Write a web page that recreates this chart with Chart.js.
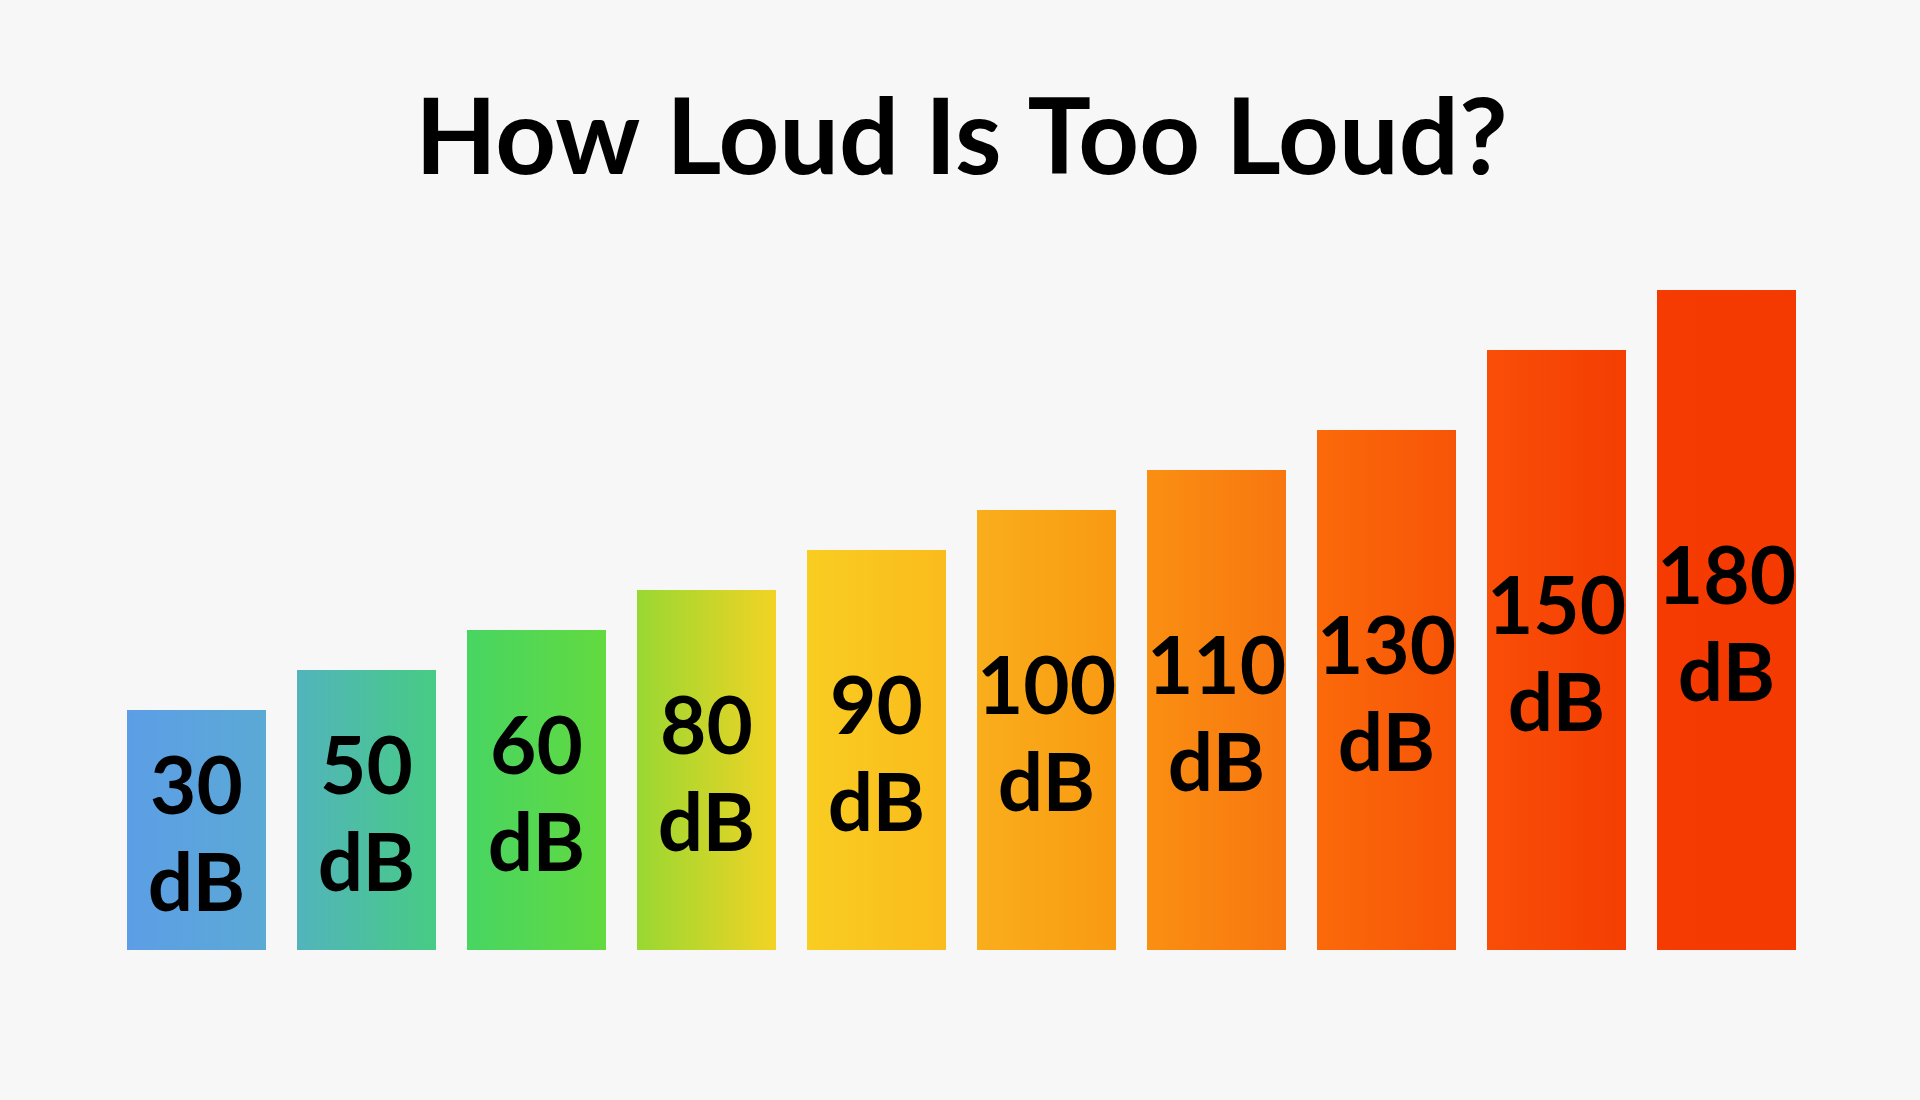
<!DOCTYPE html>
<html>
<head>
<meta charset="utf-8">
<script src="https://cdn.jsdelivr.net/npm/chart.js@4.4.1/dist/chart.umd.min.js"></script>
<style>
  html, body { margin: 0; padding: 0; background: #f7f7f7; }
  #wrap { width: 1920px; height: 1100px; }
</style>
</head>
<body>
<div id="wrap"><canvas id="chart" width="1920" height="1100"></canvas></div>
<script>
// ---------- Data ----------
const levels = [30, 50, 60, 80, 90, 100, 110, 130, 150, 180]; // dB labels
const barHeights = [6, 7, 8, 9, 10, 11, 12, 13, 15, 16.5];   // bar heights as drawn (not to scale with dB)
const unitText = "dB";

// left / right stop of each bar's horizontal gradient
const gradLeft  = ["#5c9ee6", "#52b4bc", "#48d563", "#98d832", "#f9cd22", "#f9ae1c", "#fa8f12", "#fb6a0a", "#f94e08", "#f63b02"];
const gradRight = ["#5ba9d5", "#47cb84", "#62da3f", "#f2d324", "#fabb1c", "#f99a12", "#f8760f", "#f75407", "#f43e02", "#f43a01"];

const FONT = "Lato, 'Open Sans', sans-serif";
const BAR_PCT = 139 / 170;

// ---------- Gradient fill per bar ----------
function barGradient(context) {
  const chart = context.chart;
  const i = context.dataIndex;
  if (!chart.chartArea || i === undefined) return gradLeft[i] || "#888";
  const xs = chart.scales.x;
  const c = xs.getPixelForValue(i);
  const half = (xs.width / levels.length) * BAR_PCT / 2;
  const g = chart.ctx.createLinearGradient(c - half, 0, c + half, 0);
  g.addColorStop(0, gradLeft[i]);
  g.addColorStop(1, gradRight[i]);
  return g;
}

// ---------- Labels inside bars ----------
const insideLabels = {
  id: "insideLabels",
  afterDatasetsDraw(chart) {
    const ctx = chart.ctx;
    const meta = chart.getDatasetMeta(0);
    ctx.save();
    ctx.fillStyle = "#000";
    ctx.textAlign = "center";
    ctx.textBaseline = "alphabetic";
    ctx.font = `bold 80px ${FONT}`;
    meta.data.forEach((bar, i) => {
      const mid = (bar.y + bar.base) / 2 + 2;
      ctx.fillText(String(levels[i]), bar.x, mid - 18);
      ctx.fillText(unitText, bar.x, mid + 79);
    });
    ctx.restore();
  }
};

new Chart(document.getElementById("chart"), {
  type: "bar",
  data: {
    labels: levels.map(v => v + " " + unitText),
    datasets: [{
      data: barHeights,
      backgroundColor: barGradient,
      borderWidth: 0,
      barPercentage: BAR_PCT,
      categoryPercentage: 1
    }]
  },
  options: {
    responsive: false,
    animation: false,
    layout: { padding: { left: 111.5, right: 108.5, top: 0, bottom: 150 } },
    plugins: {
      legend: { display: false },
      tooltip: { enabled: false },
      title: {
        display: true,
        text: "How Loud Is Too Loud?",
        color: "#000",
        font: { family: FONT, size: 106, weight: "bold", lineHeight: 1.2 },
        padding: { top: 76, bottom: 26.8 }
      }
    },
    scales: {
      x: { display: false, grid: { display: false } },
      y: { display: false, min: 0, max: 18, grid: { display: false } }
    }
  },
  plugins: [insideLabels]
});
</script>
</body>
</html>
